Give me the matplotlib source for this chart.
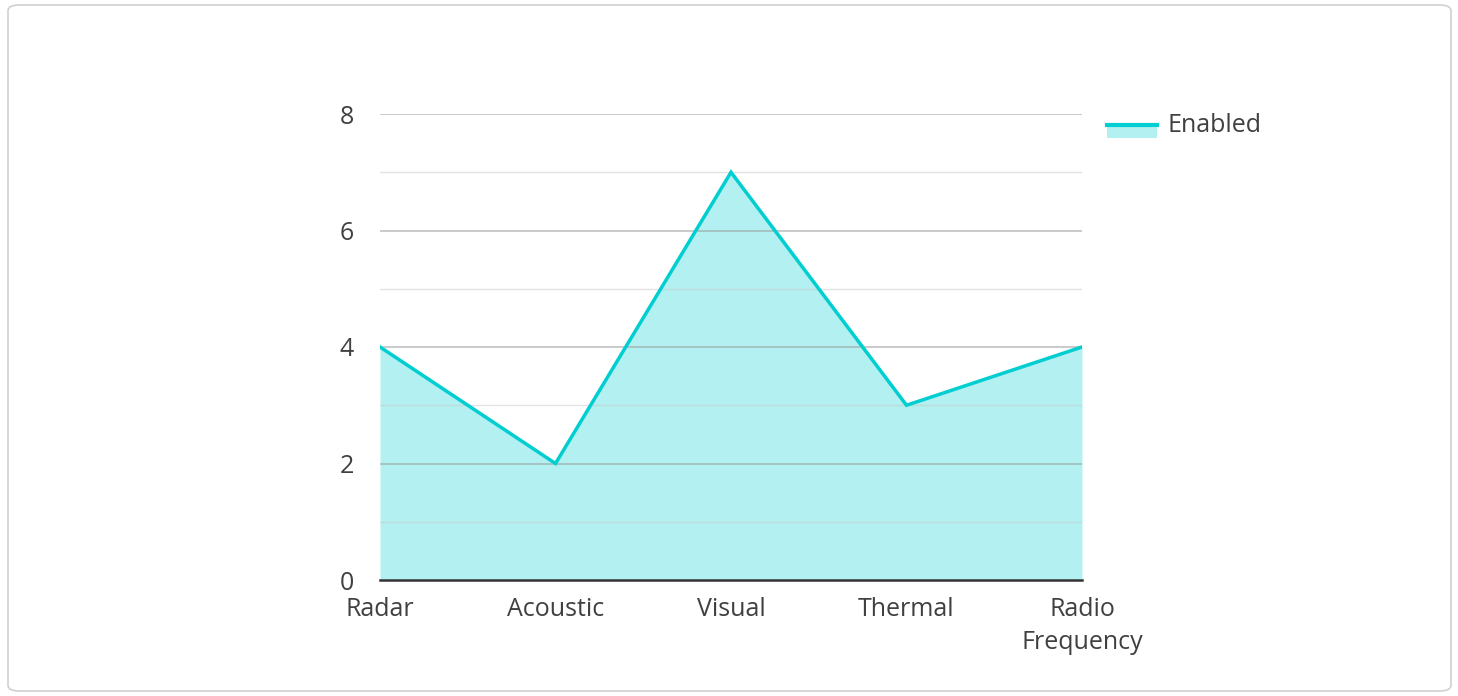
import matplotlib.pyplot as plt
import numpy as np
from matplotlib.patches import FancyBboxPatch, Rectangle
from matplotlib.lines import Line2D

categories = ['Radar', 'Acoustic', 'Visual', 'Thermal', 'Radio\nFrequency']
enabled = [4, 2, 7, 3, 4]

plt.rcParams['font.family'] = ['Open Sans', 'DejaVu Sans']

line_color = '#00CED1'
text_color = '#404040'

fig = plt.figure(figsize=(14.58, 6.96), dpi=100)

# rounded card border
fig.patches.append(FancyBboxPatch((8 / 1458, 5 / 696), 1443 / 1458, 686 / 696,
                                  boxstyle='round,pad=0,rounding_size=0.008',
                                  transform=fig.transFigure, facecolor='none',
                                  edgecolor='#d0d0d0', linewidth=1.2, zorder=-1))

ax = fig.add_axes([380 / 1458, 1 - 580 / 696, 702 / 1458, 466 / 696])
ax.set_facecolor('none')

x = np.arange(len(categories))
ax.fill_between(x, enabled, 0, color=line_color, alpha=0.3, linewidth=0, zorder=1)
ax.plot(x, enabled, color=line_color, linewidth=2.5, zorder=3, solid_joinstyle='miter')

ax.set_xlim(0, len(categories) - 1)
ax.set_ylim(0, 8)
ax.set_yticks([0, 2, 4, 6, 8])
ax.set_xticks(x)
ax.set_xticklabels(categories, linespacing=1.45)

for y in range(1, 9):
    if y % 2 == 0:
        ax.axhline(y, color='#999999', alpha=0.6, linewidth=1.2, zorder=2)
    else:
        ax.axhline(y, color='#c8c8c8', alpha=0.5, linewidth=1, zorder=2)
ax.axhline(0, color='#333333', linewidth=1.8, zorder=4, clip_on=False)

for s in ax.spines.values():
    s.set_visible(False)
ax.tick_params(length=0, labelsize=18, colors=text_color)
ax.tick_params(axis='y', pad=24)
ax.tick_params(axis='x', pad=12)
for lbl in ax.get_yticklabels():
    lbl.set_horizontalalignment('center')

# legend
fig.patches.append(Rectangle((1107 / 1458, 1 - 138 / 696), 50 / 1458, 13 / 696,
                             transform=fig.transFigure, facecolor=line_color,
                             alpha=0.3, edgecolor='none'))
fig.lines.append(Line2D([1107 / 1458, 1157 / 1458], [1 - 125 / 696, 1 - 125 / 696],
                        transform=fig.transFigure, color=line_color, linewidth=3))
fig.text(1167 / 1458, 1 - 126 / 696, 'Enabled', fontsize=18, color=text_color,
         va='center', ha='left')

fig.savefig('out.png', dpi=100)
